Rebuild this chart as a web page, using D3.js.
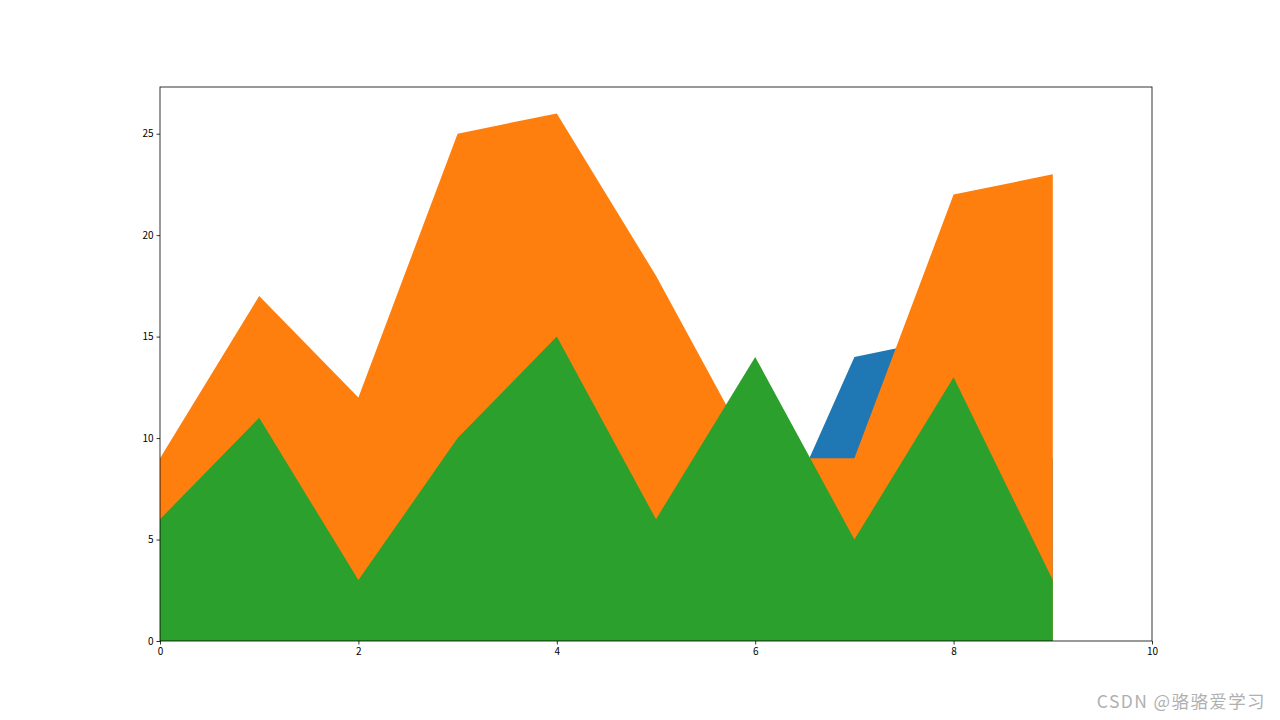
<!DOCTYPE html>
<html><head><meta charset="utf-8">
<script src="https://cdn.jsdelivr.net/npm/d3@7"></script>
<style>body{margin:0;background:#fff}svg{display:block}</style>
</head><body>
<svg id="chart" width="1280" height="720"></svg>
<script>
const xs = [0,1,2,3,4,5,6,7,8,9];
const seriesBlue = [5,12,8,20,18,10,3,14,15,9];
const seriesOrange = [9,17,12,25,26,18,9,9,22,23];
const seriesGreen = [6,11,3,10,15,6,14,5,13,3];
const xTicks = [0,2,4,6,8,10];
const yTicks = [0,5,10,15,20,25];
const colors = ["#1f77b4","#ff7f0e","#2ca02c"];

const svg = d3.select("#chart");
const L=160,R=1152,T=87,B=641;
const x = d3.scaleLinear().domain([0,10]).range([L,R]);
const y = d3.scaleLinear().domain([0,27.3]).range([B,T]);

const area = d3.area().x((d,i)=>x(xs[i])).y0(y(0)).y1(d=>y(d));
[seriesBlue,seriesOrange,seriesGreen].forEach((s,k)=>{
  svg.append("path").attr("d",area(s)).attr("fill",colors[k]);
});

const fnt = "'Noto Sans CJK SC','DejaVu Sans',sans-serif";
const xa = svg.append("g").attr("transform",`translate(0,${B})`)
  .call(d3.axisBottom(x).tickValues(xTicks).tickFormat(d3.format("d")).tickSize(3.5).tickPadding(3));
const ya = svg.append("g").attr("transform",`translate(${L},0)`)
  .call(d3.axisLeft(y).tickValues(yTicks).tickFormat(d3.format("d")).tickSize(3.5).tickPadding(3));
[xa,ya].forEach(a=>{
  a.select(".domain").remove();
  a.selectAll("text").attr("font-family",fnt).attr("font-size",10).attr("fill","#000");
  a.selectAll("line").attr("stroke","#000").attr("stroke-width",0.8);
});
svg.append("rect").attr("x",L).attr("y",T).attr("width",R-L).attr("height",B-T)
  .attr("fill","none").attr("stroke","#000").attr("stroke-width",0.8);

svg.append("text").attr("x",1266).attr("y",708).attr("text-anchor","end")
  .attr("font-family",fnt).attr("font-size",17.5).attr("letter-spacing",1.4).attr("fill","#b0b0b0")
  .text("CSDN @骆骆爱学习");
</script>
</body></html>
